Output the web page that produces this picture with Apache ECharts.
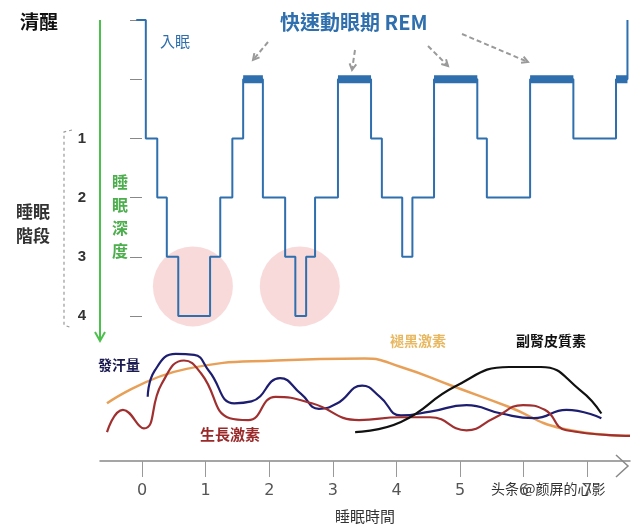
<!DOCTYPE html>
<html><head><meta charset="utf-8">
<script src="https://cdn.jsdelivr.net/npm/echarts@6/dist/echarts.min.js"></script>
<style>html,body{margin:0;background:#fff}#c{width:640px;height:525px}</style>
</head><body><div id="c"></div>
<script>
// 睡眠階段：每段起點（小時）與層級（-1 清醒，0 REM，1~4 階段）
var stageTimes = [-0.09, 0.06, 0.24, 0.39, 0.57, 1.07, 1.23, 1.42, 1.59, 1.90, 2.25, 2.41, 2.58, 2.72, 3.08, 3.60, 3.77, 4.09, 4.25, 4.59, 5.27, 5.42, 6.10, 6.78, 7.45, 7.63];
var stageLevels = [-1, 1, 2, 3, 4, 3, 2, 1, 0, 2, 3, 4, 3, 2, 0, 1, 2, 3, 2, 0, 1, 2, 0, 1, 0, -1];
var remStart = [1.59, 3.08, 4.59, 6.10, 7.45];
var remEnd = [1.90, 3.60, 5.27, 6.78, 7.63];
var deepCircles = [[0.8, 3.5], [2.48, 3.5]];

// 激素曲線（小時, 相對量）
var melatoninT = [-0.55, 0.7, 2.1, 3.5, 4.07, 4.9, 5.77, 6.6, 7.67];
var melatoninV = [58, 95, 104, 106, 97, 76, 54, 31, 23];
var sweatT = [0.09, 0.2, 0.53, 0.82, 1.05, 1.45, 1.72, 2.17, 2.5, 2.78, 3.07, 3.46, 3.74, 4.07, 4.53, 5.1, 5.65, 6.16, 6.67, 7.22];
var sweatV = [65, 93, 111, 110, 93, 58, 60, 85, 68, 52, 58, 77, 65, 45, 49, 56, 47, 42, 51, 42];
var growthT = [-0.55, -0.3, 0.03, 0.31, 0.66, 0.93, 1.38, 1.67, 2.1, 2.67, 3.41, 4.07, 4.53, 5.1, 5.53, 5.99, 6.33, 6.67, 7.67];
var growthV = [27, 51, 31, 79, 104, 90, 42, 40, 65, 58, 40, 43, 43, 29, 42, 56, 51, 29, 23];
var cortisolT = [3.35, 4.07, 4.92, 5.77, 6.27, 6.89, 7.22];
var cortisolV = [27, 38, 76, 97, 97, 72, 47];
var hourTicks = [0, 1, 2, 3, 4, 5, 6, 7];

function zip(t, v) { return t.map(function (x, i) { return [x, v[i]]; }); }
var remData = [];
remStart.forEach(function (s, i) { remData.push([s, 0], [remEnd[i], 0], null); });

var blue = '#2f6fae';
var chart = echarts.init(document.getElementById('c'));
var arrowStyle = { stroke: '#9a9a9a', lineWidth: 2, lineDash: [5, 3] };
function arrow(x1, y1, x2, y2) {
  var a = Math.atan2(y2 - y1, x2 - x1), L = 7;
  return [
    { type: 'line', shape: { x1: x1, y1: y1, x2: x2, y2: y2 }, style: arrowStyle },
    { type: 'polyline', shape: { points: [[x2 - L * Math.cos(a - 0.5), y2 - L * Math.sin(a - 0.5)], [x2, y2], [x2 - L * Math.cos(a + 0.5), y2 - L * Math.sin(a + 0.5)]] }, style: { stroke: '#9a9a9a', lineWidth: 2 } }
  ];
}
var graphics = [
  { type: 'line', shape: { x1: 100, y1: 20, x2: 100, y2: 340 }, style: { stroke: '#4cc04c', lineWidth: 2 } },
  { type: 'polyline', shape: { points: [[95, 332], [100, 341], [105, 332]] }, style: { stroke: '#4cc04c', lineWidth: 2 } },
  { type: 'polyline', shape: { points: [[72, 130], [64, 132], [64, 325], [72, 328]] }, style: { stroke: '#999', lineWidth: 1.2, lineDash: [3, 3] } },
  { type: 'text', left: 20, top: 12, style: { text: '清醒', font: 'bold 19px "Noto Sans CJK TC"', fill: '#111' } },
  { type: 'text', left: 160, top: 34, style: { text: '入眠', font: '15px "Noto Sans CJK TC"', fill: blue } },
  { type: 'text', left: 280, top: 12, style: { text: '快速動眼期 REM', font: 'bold 20px "Noto Sans CJK TC"', fill: blue } },
  { type: 'text', left: 112, top: 170, style: { text: '睡\n眠\n深\n度', font: 'bold 16px "Noto Sans CJK TC"', fill: '#4cae4c', lineHeight: 23 } },
  { type: 'text', left: 16, top: 200, style: { text: '睡眠\n階段', font: 'bold 17px "Noto Sans CJK TC"', fill: '#333', lineHeight: 24 } },
  { type: 'text', left: 98, top: 358, style: { text: '發汗量', font: 'bold 14px "Noto Sans CJK TC"', fill: '#1a1a50' } },
  { type: 'text', left: 390, top: 334, style: { text: '褪黑激素', font: 'bold 14px "Noto Sans CJK TC"', fill: '#e8b860' } },
  { type: 'text', left: 516, top: 334, style: { text: '副腎皮質素', font: 'bold 14px "Noto Sans CJK TC"', fill: '#111' } },
  { type: 'text', left: 200, top: 427, style: { text: '生長激素', font: 'bold 15px "Noto Sans CJK TC"', fill: '#9a2a2a' } },
  { type: 'text', left: 491, top: 482, style: { text: '头条 @颜屏的心影', font: '14px "Noto Sans CJK SC"', fill: '#333' } },
  { type: 'polyline', shape: { points: [[616, 455], [628, 466], [616, 477]] }, style: { stroke: '#888', lineWidth: 1.5 } }
].concat(arrow(268, 42, 253, 60), arrow(355, 50, 352, 70), arrow(428, 46, 448, 66), arrow(462, 34, 528, 62));

chart.setOption({
  animation: false,
  graphic: graphics,
  grid: [
    { left: 100, right: 10, top: 20, bottom: 209 },
    { left: 100, right: 10, top: 340, bottom: 59 }
  ],
  xAxis: [
    { gridIndex: 0, type: 'value', min: -0.66, max: 7.67, show: false },
    { gridIndex: 1, type: 'value', min: -0.66, max: 7.67, interval: 1,
      axisLine: { onZero: false, lineStyle: { color: '#888', width: 1.5 } },
      axisTick: { length: 16, lineStyle: { color: '#999' }, customValues: hourTicks },
      axisLabel: { color: '#555', fontSize: 16, margin: 22, customValues: hourTicks, fontFamily: 'DejaVu Sans' },
      splitLine: { show: false },
      name: '睡眠時間', nameLocation: 'middle', nameGap: 48,
      nameTextStyle: { fontSize: 15, color: '#333', fontFamily: 'Noto Sans CJK TC' } }
  ],
  yAxis: [
    { gridIndex: 0, type: 'value', min: -1, max: 4, interval: 1, inverse: true,
      axisLine: { show: false },
      axisTick: { show: true, length: 12, lineStyle: { color: '#888' } },
      axisLabel: { formatter: function (v) { return v <= 0 ? '' : String(v); },
        fontWeight: 'bold', fontSize: 15, color: '#333', margin: 14 },
      splitLine: { show: false } },
    { gridIndex: 1, type: 'value', min: -4, max: 126, show: false }
  ],
  series: [
    { type: 'scatter', xAxisIndex: 0, yAxisIndex: 0, data: deepCircles, symbolSize: 80,
      itemStyle: { color: 'rgba(240,170,170,0.55)' }, silent: true },
    { type: 'line', xAxisIndex: 0, yAxisIndex: 0, step: 'end', data: zip(stageTimes, stageLevels),
      showSymbol: false, lineStyle: { color: blue, width: 2 } },
    { type: 'line', xAxisIndex: 0, yAxisIndex: 0, data: remData, connectNulls: false,
      showSymbol: false, lineStyle: { color: blue, width: 8 } },
    { type: 'line', xAxisIndex: 1, yAxisIndex: 1, smooth: true, data: zip(melatoninT, melatoninV),
      showSymbol: false, lineStyle: { color: '#e8a058', width: 2.5 } },
    { type: 'line', xAxisIndex: 1, yAxisIndex: 1, smooth: true, data: zip(sweatT, sweatV),
      showSymbol: false, lineStyle: { color: '#1e1e70', width: 2.2 } },
    { type: 'line', xAxisIndex: 1, yAxisIndex: 1, smooth: true, data: zip(growthT, growthV),
      showSymbol: false, lineStyle: { color: '#a03030', width: 2.2 } },
    { type: 'line', xAxisIndex: 1, yAxisIndex: 1, smooth: true, data: zip(cortisolT, cortisolV),
      showSymbol: false, lineStyle: { color: '#111', width: 2.2 } }
  ]
});
</script></body></html>
